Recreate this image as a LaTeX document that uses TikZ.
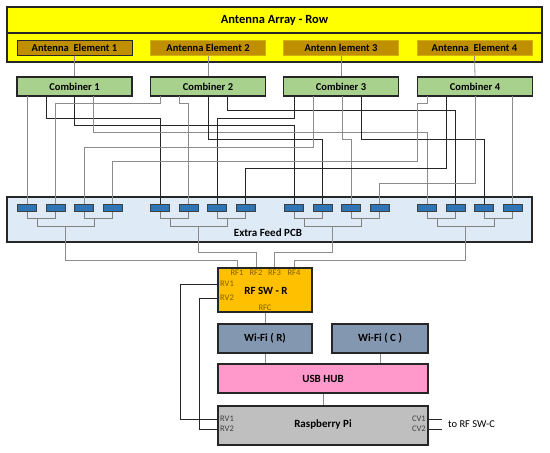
\documentclass[tikz,border=0pt]{standalone}
\usepackage{fontspec}
\setmainfont{Carlito}
\definecolor{arrY}{HTML}{FFFF00}
\definecolor{elemC}{HTML}{C08F00}
\definecolor{combC}{HTML}{A9D18E}
\definecolor{pcbC}{HTML}{DEEBF7}
\definecolor{portC}{HTML}{2E75B6}
\definecolor{rfC}{HTML}{FFC000}
\definecolor{wifiC}{HTML}{8497B0}
\definecolor{usbC}{HTML}{FF99CC}
\definecolor{piC}{HTML}{BFBFBF}
\definecolor{oliveT}{HTML}{7F6000}
\tikzset{
 box/.style={draw=black!85, line width=1.2pt, inner sep=0pt, font=\bfseries\fontsize{11}{12}\selectfont},
 elembox/.style={box, fill=elemC, line width=0.7pt, font=\bfseries\fontsize{10.5}{12}\selectfont},
 combbox/.style={box, fill=combC, minimum width=115pt, minimum height=19pt, font=\bfseries\fontsize{10.5}{12}\selectfont},
 portbox/.style={draw=black!75, fill=portC, line width=0.6pt, minimum width=19pt, minimum height=7.5pt, inner sep=0pt},
 wire/.style={draw=black!85, line width=0.8pt},
 wireg/.style={draw=black!45, line width=0.8pt},
 tree/.style={draw=black!50, line width=0.7pt},
 lab/.style={font=\fontsize{8.5}{9}\selectfont, inner sep=0pt, text=oliveT},
 pilab/.style={font=\fontsize{8.5}{9}\selectfont, inner sep=0pt, text=black!75},
}
\begin{document}
\begin{tikzpicture}[x=1pt,y=-1pt]
\useasboundingbox (0,0) rectangle (550,453);
% antenna array
\node[box, fill=arrY, minimum width=535pt, minimum height=55pt] (arr) at (274.5,34.5) {};
\coordinate (dv) at (0,33);
\draw[line width=1.2pt, black!85] (arr.west |- dv) -- (arr.east |- dv);
\node[font=\bfseries\fontsize{12.5}{14}\selectfont] (title) at (274.5,20.5) {Antenna Array - Row};
\node[elembox, minimum width=115pt, minimum height=15pt] (e1) at (74.5,48) {Antenna\ \ Element 1};
\node[elembox, draw=elemC!70!yellow, minimum width=115pt, minimum height=15pt] (e2) at (208,48) {Antenna Element 2};
\node[elembox, draw=elemC!70!yellow, minimum width=115pt, minimum height=15pt] (e3) at (341,48) {Antenn lement 3};
\node[elembox, draw=elemC!70!yellow, minimum width=115pt, minimum height=15pt] (e4) at (474.5,48) {Antenna\ \ Element 4};
% combiners
\node[combbox] (c1) at (74.5,86.5) {Combiner 1};
\node[combbox] (c2) at (208,86.5) {Combiner 2};
\node[combbox] (c3) at (341,86.5) {Combiner 3};
\node[combbox] (c4) at (475,86.5) {Combiner 4};
\foreach \i in {1,...,4} {\draw[wireg] (e\i.south) -- (c\i.north);}
% PCB
\node[box, fill=pcbC, minimum width=525pt, minimum height=45pt] (pcb) at (269.5,219.5) {};
\node[font=\bfseries\fontsize{11}{12}\selectfont] (pcbl) at (268,233) {Extra Feed PCB};
\foreach \g/\xs in {1/27,2/160,3/294,4/427} {
  \foreach \i in {1,...,4} {\node[portbox] (p\g\i) at ({\xs+(\i-1)*28.5},208) {};}
  \draw[tree] (p\g1.south) -- ++(0,6.5) -| (p\g2.south);
  \draw[tree] (p\g3.south) -- ++(0,6.5) -| (p\g4.south);
  \draw[tree] ([xshift=10pt,yshift=-6.5pt]p\g1.south) -- ++(0,7.5) -| ([xshift=10pt,yshift=-6.5pt]p\g3.south);
  \coordinate (go\g) at ({\xs+38.5},226);
}
% combiner outputs
\coordinate (o11) at (27,96);   \coordinate (o12) at (46,96);  \coordinate (o13) at (74,96);  \coordinate (o14) at (93,96);
\coordinate (o21) at (160,96);  \coordinate (o22) at (179,96); \coordinate (o23) at (208,96); \coordinate (o24) at (227,96);
\coordinate (o31) at (294,96);  \coordinate (o32) at (313,96); \coordinate (o33) at (342,96); \coordinate (o34) at (361,96);
\coordinate (o41) at (427,96);  \coordinate (o42) at (446,96); \coordinate (o43) at (475,96); \coordinate (o44) at (512.5,96);
\draw[wireg] (o11) -- (p11.north);
\draw[wire]  (o12) -- ++(0,22) -| (p21.north);
\draw[wire]  (o13) -- ++(0,29) -| (p31.north);
\draw[wireg] (o14) -- ++(0,36) -| (p41.north);
\draw[wireg] (o21) -- ++(0,7) -| (p12.north);
\draw[wireg] (o22) -- ++(0,7) -| (p22.north);
\draw[wire]  (o23) -- ++(0,43) -| (p32.north);
\draw[wire]  (o24) -- ++(0,14) -| (p42.north);
\draw[wire]  (o31) -- ++(0,22) -| (p23.north);
\draw[wireg] (o32) -- ++(0,51) -| (p13.north);
\draw[wireg] (o33) -- ++(0,43) -| (p33.north);
\draw[wire]  (o34) -- ++(0,43) -| (p43.north);
\draw[wireg] (o41) -- ++(0,7) -- ++(-10,0) -- ++(0,58) -| (p14.north);
\draw[wire]  (o42) -- ++(0,72) -| (p24.north);
\draw[wireg] (o43) -- ++(0,87) -| (p34.north);
\draw[wireg] (o44) -- (p44.north);
% RF switch
\node[box, fill=rfC, minimum width=94pt, minimum height=44pt] (rfsw) at (265,290) {};
\node[font=\bfseries\fontsize{11}{12}\selectfont] (rfswl) at (266,291) {RF SW - R};
\node[lab] (rf1l) at (237,273) {RF1};
\node[lab] (rf2l) at (256,273) {RF2};
\node[lab] (rf3l) at (274.5,273) {RF3};
\node[lab] (rf4l) at (294,273) {RF4};
\node[lab, anchor=west] (rv1l) at (220,284) {RV1};
\node[lab, anchor=west] (rv2l) at (220,298) {RV2};
\node[lab] (rfcl) at (265,308) {RFC};
\draw[wireg] (go1) -- ++(0,34) -| (rfsw.north -| rf1l);
\draw[wireg] (go2) -- ++(0,26) -| (rfsw.north -| rf2l);
\draw[wireg] (go3) -- ++(0,26) -| (rfsw.north -| rf3l);
\draw[wireg] (go4) -- ++(0,34) -| (rfsw.north -| rf4l);
% Wi-Fi, USB, Pi
\node[box, fill=wifiC, minimum width=94pt, minimum height=29pt] (wifir) at (265,338.5) {Wi-Fi ( R)};
\node[box, fill=wifiC, minimum width=96pt, minimum height=29pt] (wific) at (380,338.5) {Wi-Fi ( C )};
\node[box, fill=usbC, minimum width=210pt, minimum height=29pt] (usb) at (323,378.5) {USB HUB};
\node[box, fill=piC, minimum width=210pt, minimum height=39pt] (pi) at (323,425.5) {};
\node[font=\bfseries\fontsize{11}{12}\selectfont] (pil) at (323,424.5) {Raspberry Pi};
\draw[wireg] (rfsw.south) -- (wifir.north);
\draw[wireg] (wifir.south) -- (usb.north -| wifir.south);
\draw[wireg] (wific.south) -- (usb.north -| wific.south);
\draw[wireg] (usb.south) -- (pi.north -| usb.south);
\node[pilab, anchor=west] (prv1) at (220,418.5) {RV1};
\node[pilab, anchor=west] (prv2) at (220,429) {RV2};
\node[pilab, anchor=east] (pcv1) at (426,418.5) {CV1};
\node[pilab, anchor=east] (pcv2) at (426,429) {CV2};
\coordinate (rv1s) at (218,284); \coordinate (rv1t) at (218,419);
\coordinate (rv2s) at (218,298); \coordinate (rv2t) at (218,429);
\draw[wire] (rv1s) -- ++(-38,0) |- (rv1t);
\draw[wire] (rv2s) -- ++(-19,0) |- (rv2t);
\coordinate (cv1s) at (428,419); \coordinate (cv2s) at (428,429);
\node[font=\fontsize{10.5}{11}\selectfont, anchor=west, inner sep=0pt] (tosw) at (448,424) {to RF SW-C};
\draw[wire] (cv1s) -- ++(14,0);
\draw[wire] (cv2s) -- ++(14,0);
\end{tikzpicture}
\end{document}
